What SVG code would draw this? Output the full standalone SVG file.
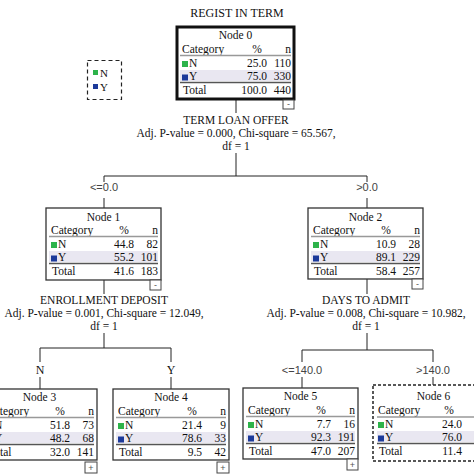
<svg xmlns="http://www.w3.org/2000/svg" width="474" height="474" viewBox="0 0 474 474">
<style>
text{font-family:"Liberation Serif","Times New Roman",serif;font-size:12px;fill:#111}
.t{font-size:11.5px}
.s{font-size:11.5px}
.m{text-anchor:middle}
.e{text-anchor:end}
.lbl{font-family:"Liberation Sans",Arial,sans-serif;font-size:11px;fill:#444}
.box{fill:#fff;stroke:#333;stroke-width:1.3}
.hl{stroke:#999;stroke-width:1.5}
.yl{stroke:#555;stroke-width:1.5}
.ybg{fill:#e9e7f1}
.g{fill:#2db34a}
.b{fill:#1c3a9a}
.btn{fill:#fff;stroke:#444;stroke-width:1}
.bt{font-family:"Liberation Sans",Arial,sans-serif;font-size:9px;fill:#555;text-anchor:middle}
.c{fill:none;stroke:#222;stroke-width:1}
</style>
<rect width="474" height="474" fill="#fff"/>
<text class="m" x="237" y="17">REGIST IN TERM</text>

<g id="legend">
<rect x="87.5" y="60.5" width="34" height="39" fill="none" stroke="#222" stroke-width="1.2" stroke-dasharray="4,3"/>
<rect class="g" x="93" y="70" width="5" height="5"/>
<text x="100" y="77" style="font-size:11px">N</text>
<rect class="b" x="93" y="84" width="5" height="5"/>
<text x="100" y="91" style="font-size:11px">Y</text>
</g>

<g id="connectors">
<path class="c" d="M236 100V113"/>
<path class="c" d="M236 153V176M104 176H367M104 176V182M104 198V208M367 176V182M367 198V208"/>
<path class="c" d="M104 280V294M104 333V348M40 348H171M40 348V362M40 377V389M171 348V362M171 377V389"/>
<path class="c" d="M367 279V294M367 333V350M302 350H433M302 350V362M302 377V388M433 350V362M433 377V385"/>
</g>
<g id="edge-labels">
<text class="lbl m" x="104" y="191">&lt;=0.0</text>
<text class="lbl m" x="367" y="191">&gt;0.0</text>
<text class="m" x="40" y="374">N</text>
<text class="m" x="171" y="374">Y</text>
<text class="lbl m" x="302" y="374">&lt;=140.0</text>
<text class="lbl m" x="433" y="374">&gt;140.0</text>
</g>
<g id="split-labels">
<text class="s m" x="236" y="124">TERM LOAN OFFER</text>
<text class="s m" x="236" y="136.8">Adj. P-value = 0.000, Chi-square = 65.567,</text>
<text class="s m" x="236" y="149.6">df = 1</text>
<text class="s m" x="104" y="304">ENROLLMENT DEPOSIT</text>
<text class="s m" x="104" y="316.8">Adj. P-value = 0.001, Chi-square = 12.049,</text>
<text class="s m" x="104" y="329.6">df = 1</text>
<text class="s m" x="366" y="304">DAYS TO ADMIT</text>
<text class="s m" x="366" y="316.8">Adj. P-value = 0.008, Chi-square = 10.982,</text>
<text class="s m" x="366" y="329.6">df = 1</text>
</g>

<g id="node0" transform="translate(177,27)">
<rect x="0" y="0" width="117" height="72" fill="#fff" stroke="#111" stroke-width="3"/>
<text class="t m" x="58.5" y="12">Node 0</text>
<text class="t" x="5" y="26">Category</text><text class="t m" x="80" y="26">%</text><text class="t e" x="114" y="26">n</text>
<line class="hl" x1="3" y1="28.5" x2="114" y2="28.5"/>
<rect class="g" x="5" y="34" width="6" height="6"/><text class="t" x="12" y="39.5">N</text>
<text class="t e" x="90" y="39.5">25.0</text><text class="t e" x="114" y="39.5">110</text>
<rect class="ybg" x="3" y="43" width="111" height="11"/>
<rect class="b" x="5" y="47.5" width="6" height="6"/><text class="t" x="12" y="53">Y</text>
<text class="t e" x="90" y="53">75.0</text><text class="t e" x="114" y="53">330</text>
<line class="yl" x1="3" y1="55.5" x2="114" y2="55.5"/>
<text class="t" x="6" y="67">Total</text><text class="t e" x="90" y="67">100.0</text><text class="t e" x="114" y="67">440</text>
<rect class="btn" x="106" y="73" width="11" height="9"/><text class="bt" x="111.5" y="80">-</text>
</g>

<g id="node1" transform="translate(46,208)">
<rect class="box" x="0" y="0" width="115" height="72"/>
<text class="t m" x="57.5" y="12.5">Node 1</text>
<text class="t" x="5" y="26">Category</text><text class="t m" x="78" y="26">%</text><text class="t e" x="112" y="26">n</text>
<line class="hl" x1="3" y1="28.5" x2="112" y2="28.5"/>
<rect class="g" x="5" y="34" width="6" height="6"/><text class="t" x="12" y="39.5">N</text>
<text class="t e" x="88" y="39.5">44.8</text><text class="t e" x="112" y="39.5">82</text>
<rect class="ybg" x="3" y="43" width="109" height="11"/>
<rect class="b" x="5" y="47.5" width="6" height="6"/><text class="t" x="12" y="53">Y</text>
<text class="t e" x="88" y="53">55.2</text><text class="t e" x="112" y="53">101</text>
<line class="yl" x1="3" y1="55.5" x2="112" y2="55.5"/>
<text class="t" x="6" y="67">Total</text><text class="t e" x="88" y="67">41.6</text><text class="t e" x="112" y="67">183</text>
<rect class="btn" x="104" y="72" width="11" height="10"/><text class="bt" x="109.5" y="79.5">-</text>
</g>

<g id="node2" transform="translate(308,208)">
<rect class="box" x="0" y="0" width="115" height="71"/>
<text class="t m" x="57.5" y="12.5">Node 2</text>
<text class="t" x="5" y="26">Category</text><text class="t m" x="78" y="26">%</text><text class="t e" x="112" y="26">n</text>
<line class="hl" x1="3" y1="28.5" x2="112" y2="28.5"/>
<rect class="g" x="5" y="34" width="6" height="6"/><text class="t" x="12" y="39.5">N</text>
<text class="t e" x="88" y="39.5">10.9</text><text class="t e" x="112" y="39.5">28</text>
<rect class="ybg" x="3" y="43" width="109" height="11"/>
<rect class="b" x="5" y="47.5" width="6" height="6"/><text class="t" x="12" y="53">Y</text>
<text class="t e" x="88" y="53">89.1</text><text class="t e" x="112" y="53">229</text>
<line class="yl" x1="3" y1="55.5" x2="112" y2="55.5"/>
<text class="t" x="6" y="67">Total</text><text class="t e" x="88" y="67">58.4</text><text class="t e" x="112" y="67">257</text>
<rect class="btn" x="104" y="71" width="11" height="10"/><text class="bt" x="109.5" y="78.5">-</text>
</g>

<g id="node3" transform="translate(-18,389)">
<rect class="box" x="0" y="0" width="115" height="71"/>
<text class="t m" x="57.5" y="12">Node 3</text>
<text class="t" x="5" y="26">Category</text><text class="t m" x="78" y="26">%</text><text class="t e" x="112" y="26">n</text>
<line class="hl" x1="3" y1="28.5" x2="112" y2="28.5"/>
<rect class="g" x="5" y="34" width="6" height="6"/><text class="t" x="12" y="39.5">N</text>
<text class="t e" x="88" y="39.5">51.8</text><text class="t e" x="112" y="39.5">73</text>
<rect class="ybg" x="3" y="43" width="109" height="11"/>
<rect class="b" x="5" y="47.5" width="6" height="6"/><text class="t" x="12" y="53">Y</text>
<text class="t e" x="88" y="53">48.2</text><text class="t e" x="112" y="53">68</text>
<line class="yl" x1="3" y1="55.5" x2="112" y2="55.5"/>
<text class="t" x="6" y="67">Total</text><text class="t e" x="88" y="67">32.0</text><text class="t e" x="112" y="67">141</text>
<rect class="btn" x="103" y="73" width="12" height="11"/><text class="bt" x="109" y="81.5">+</text>
</g>

<g id="node4" transform="translate(113,389)">
<rect class="box" x="0" y="0" width="116" height="71"/>
<text class="t m" x="58" y="12">Node 4</text>
<text class="t" x="5" y="26">Category</text><text class="t m" x="79" y="26">%</text><text class="t e" x="113" y="26">n</text>
<line class="hl" x1="3" y1="28.5" x2="113" y2="28.5"/>
<rect class="g" x="5" y="34" width="6" height="6"/><text class="t" x="12" y="39.5">N</text>
<text class="t e" x="89" y="39.5">21.4</text><text class="t e" x="113" y="39.5">9</text>
<rect class="ybg" x="3" y="43" width="110" height="11"/>
<rect class="b" x="5" y="47.5" width="6" height="6"/><text class="t" x="12" y="53">Y</text>
<text class="t e" x="89" y="53">78.6</text><text class="t e" x="113" y="53">33</text>
<line class="yl" x1="3" y1="55.5" x2="113" y2="55.5"/>
<text class="t" x="6" y="67">Total</text><text class="t e" x="89" y="67">9.5</text><text class="t e" x="113" y="67">42</text>
<rect class="btn" x="104" y="73" width="12" height="11"/><text class="bt" x="110" y="81.5">+</text>
</g>

<g id="node5" transform="translate(243,388)">
<rect class="box" x="0" y="0" width="115" height="71"/>
<text class="t m" x="57.5" y="12">Node 5</text>
<text class="t" x="5" y="26">Category</text><text class="t m" x="78" y="26">%</text><text class="t e" x="112" y="26">n</text>
<line class="hl" x1="3" y1="28.5" x2="112" y2="28.5"/>
<rect class="g" x="5" y="34" width="6" height="6"/><text class="t" x="12" y="39.5">N</text>
<text class="t e" x="88" y="39.5">7.7</text><text class="t e" x="112" y="39.5">16</text>
<rect class="ybg" x="3" y="43" width="109" height="11"/>
<rect class="b" x="5" y="47.5" width="6" height="6"/><text class="t" x="12" y="53">Y</text>
<text class="t e" x="88" y="53">92.3</text><text class="t e" x="112" y="53">191</text>
<line class="yl" x1="3" y1="55.5" x2="112" y2="55.5"/>
<text class="t" x="6" y="67">Total</text><text class="t e" x="88" y="67">47.0</text><text class="t e" x="112" y="67">207</text>
<rect class="btn" x="104" y="71" width="11" height="11"/><text class="bt" x="109.5" y="79.5">+</text>
</g>

<g id="node6" transform="translate(376,389)">
<rect x="-3" y="-4" width="121" height="76" fill="#fff" stroke="#222" stroke-width="1.5" stroke-dasharray="3,2"/>
<text class="t m" x="57.5" y="11">Node 6</text>
<text class="t" x="2" y="25">Category</text><text class="t m" x="73" y="25">%</text>
<line class="hl" x1="1" y1="28" x2="112" y2="28"/>
<rect class="g" x="2" y="33" width="6" height="6"/><text class="t" x="9" y="38.5">N</text>
<text class="t e" x="86" y="38.5">24.0</text>
<rect class="ybg" x="1" y="42" width="111" height="11"/>
<rect class="b" x="2" y="46.5" width="6" height="6"/><text class="t" x="9" y="52">Y</text>
<text class="t e" x="86" y="52">76.0</text>
<line class="yl" x1="1" y1="54.5" x2="112" y2="54.5"/>
<text class="t" x="3" y="66">Total</text><text class="t e" x="86" y="66">11.4</text>
</g>
</svg>
